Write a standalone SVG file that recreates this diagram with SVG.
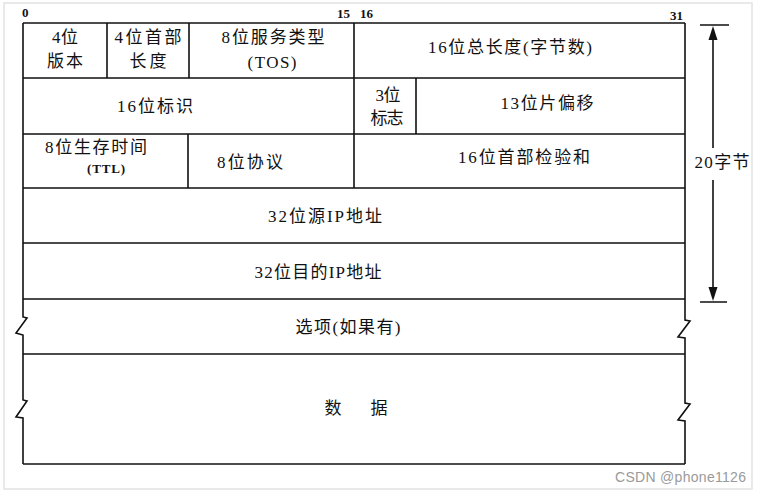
<svg xmlns="http://www.w3.org/2000/svg" width="761" height="494" viewBox="0 0 761 494">
<style>
.t{font-family:"Liberation Serif","Noto Sans CJK SC",serif;font-size:17px;fill:#111;text-anchor:middle}
.n{font-family:"Liberation Serif",serif;font-size:13px;font-weight:bold;fill:#111}
.ln{stroke:#111;stroke-width:1.6;fill:none}
.ah{fill:#111;stroke:none}
.wm{font-family:"Liberation Sans",sans-serif;font-size:14px;fill:#9a9a9a}
</style>
<rect x="4" y="3" width="748" height="486" fill="#fff" stroke="#e2e2e2" stroke-width="1.5"/>
<g id="bit-labels">
<text class="n" x="22" y="17">0</text>
<text class="n" x="337" y="18">15</text>
<text class="n" x="360" y="18">16</text>
<text class="n" x="670" y="20">31</text>
</g>
<g id="frame">
<path class="ln" d="M23,23 L685,23"/>
<path class="ln" d="M23,464 L685,464"/>
<path class="ln" d="M23,23 L23,317 L27,318 L16,333 L23,335 L23,400 L27,401 L16,417 L23,418 L23,464"/>
<path class="ln" d="M685,23 L685,320 L690,321 L678,337 L685,338 L685,403 L690,404 L678,420 L685,421 L685,464"/>
<path class="ln" d="M23,78 L685,78 M23,134 L685,134 M23,188 L685,188 M23,243 L685,243 M23,299 L685,299 M23,354 L685,354"/>
<path class="ln" d="M107,23 L107,78 M189,23 L189,78 M354,23 L354,188 M416,78 L416,134 M188,134 L188,188"/>
</g>
<g id="version">
<text class="t" x="65" y="43" textLength="26">4位</text>
<text class="t" x="65" y="67" textLength="36">版本</text>
</g>
<g id="ihl">
<text class="t" x="148" y="43" textLength="67">4位首部</text>
<text class="t" x="148" y="67" textLength="37">长度</text>
</g>
<g id="tos">
<text class="t" x="273" y="43" textLength="103">8位服务类型</text>
<text class="t" x="272" y="68" textLength="49">(TOS)</text>
</g>
<g id="total-length">
<text class="t" x="510" y="53" textLength="164">16位总长度(字节数)</text>
</g>
<g id="identification">
<text class="t" x="155" y="112" textLength="76">16位标识</text>
</g>
<g id="flags">
<text class="t" x="388" y="101" textLength="25">3位</text>
<text class="t" x="387" y="124" textLength="33">标志</text>
</g>
<g id="fragment-offset">
<text class="t" x="547" y="109" textLength="93">13位片偏移</text>
</g>
<g id="ttl">
<text class="t" x="96" y="153" textLength="102">8位生存时间</text>
<text class="n" x="106" y="173" text-anchor="middle" textLength="38">(TTL)</text>
</g>
<g id="protocol">
<text class="t" x="250" y="168" textLength="66">8位协议</text>
</g>
<g id="checksum">
<text class="t" x="524" y="163" textLength="132">16位首部检验和</text>
</g>
<g id="src-ip">
<text class="t" x="325" y="222" textLength="114">32位源IP地址</text>
</g>
<g id="dst-ip">
<text class="t" x="318" y="278" textLength="127">32位目的IP地址</text>
</g>
<g id="options">
<text class="t" x="348" y="333" textLength="105">选项(如果有)</text>
</g>
<g id="data">
<text class="t" x="356" y="414" textLength="63">数　据</text>
</g>
<g id="connectors">
<path class="ln" d="M700,25 L729,25 M700,302 L727,302"/>
<path class="ln" d="M713,38 L713,148"/>
<path class="ln" d="M713,180 L713,289"/>
<path class="ah" d="M713,26 L708.5,40 L717.5,40 Z"/>
<path class="ah" d="M713,301 L708.5,287 L717.5,287 Z"/>
<text class="t" x="722" y="168" textLength="55">20字节</text>
</g>
<text class="wm" x="615" y="482" textLength="131">CSDN @phone1126</text>
</svg>
